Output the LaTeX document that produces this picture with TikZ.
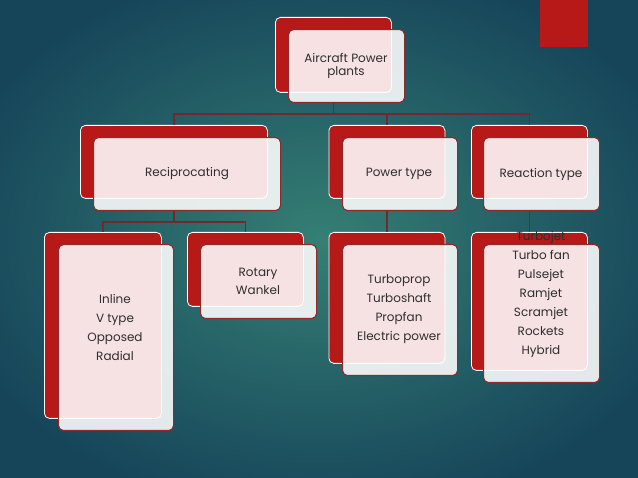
\documentclass[tikz,border=0pt]{standalone}
\usepackage{fontspec}
\setmainfont{Poppins}
\definecolor{bgin}{HTML}{357F74}
\definecolor{bgout}{HTML}{16455A}
\definecolor{boxred}{HTML}{B71818}
\definecolor{edgered}{HTML}{8C2A2C}
\definecolor{linered}{HTML}{72282D}
\definecolor{txt}{HTML}{2E2E2E}
\begin{document}
\begin{tikzpicture}[x=1pt,y=-1pt,
  back/.style={draw=white, line width=0.8pt, fill=boxred, rounded corners=5pt,
    inner sep=0pt, anchor=north west, minimum width=116pt},
  front/.style={draw=edgered, line width=1.1pt, fill=white, fill opacity=0.88,
    rounded corners=5pt, inner sep=0pt, anchor=north west, minimum width=116pt},
  lbl/.style={text=txt, align=center, inner sep=0pt, font=\fontsize{12}{19}\selectfont},
  conn/.style={draw=linered, line width=1.2pt}]
\useasboundingbox (0,0) rectangle (638,478);
\shade[inner color=bgin, outer color=bgout] (-60,-40) rectangle (698,518);
\node[fill=boxred, inner sep=0pt, minimum width=48pt, minimum height=47pt, anchor=north west] (accent) at (540,0) {};

% top
\node[back, minimum height=75pt] (tb) at (275,17) {};
\node[front, minimum height=73pt] (tf) at (288,29) {};
\node[lbl, font=\fontsize{12}{13}\selectfont] (tt) at (346,66) {Aircraft Power\\plants};

% level 1
\node[back, minimum width=187pt, minimum height=73pt] (rb) at (80,125) {};
\node[front, minimum width=187pt, minimum height=73pt] (rf) at (93,137) {};
\node[lbl] (rt) at (187,174) {Reciprocating};

\node[back, minimum height=73pt] (pb) at (328.5,125) {};
\node[front, minimum width=115pt, minimum height=73pt] (pf) at (342,137) {};
\node[lbl] (pt) at (399,174) {Power type};

\node[back, minimum height=73pt] (xb) at (471,125) {};
\node[front, minimum height=73pt] (xf) at (483,137) {};
\node[lbl] (xt) at (541,174) {Reaction type};

% level 2
\node[back, minimum width=117pt, minimum height=186pt] (ib) at (44,232) {};
\node[front, minimum width=115pt, minimum height=186pt] (if) at (58,244) {};
\node[lbl] (it) at (115,327.5) {Inline\\V type\\Opposed\\Radial};

\node[back, minimum height=74pt] (ob) at (187,232) {};
\node[front, minimum height=74pt] (of) at (200,244) {};
\node[lbl, font=\fontsize{12}{18}\selectfont] (ot) at (258,281) {Rotary\\Wankel};

\node[back, minimum height=131pt] (qb) at (328.5,232) {};
\node[front, minimum width=115pt, minimum height=131pt] (qf) at (342,244) {};
\node[lbl] (qt) at (399,309.5) {Turboprop\\Turboshaft\\Propfan\\Electric power};

\node[back, minimum height=138pt] (yb) at (471,232) {};
\node[front, minimum height=138pt] (yf) at (483,244) {};
\node[lbl] (yt) at (541,294) {Turbojet\\Turbo fan\\Pulsejet\\Ramjet\\Scramjet\\Rockets\\Hybrid};

% connectors
\coordinate (bus1) at (0,114);
\coordinate (bus2) at (0,222);
\draw[conn] (tb.center |- tf.south) -- (tb.center |- bus1);
\draw[conn] (rb.north) -- (rb.north |- bus1) -- (xb.north |- bus1) -- (xb.north);
\draw[conn] (pb.north |- bus1) -- (pb.north);
\draw[conn] (rb.center |- rf.south) -- (rb.center |- bus2);
\draw[conn] (ib.north) -- (ib.north |- bus2) -- (ob.north |- bus2) -- (ob.north);
\draw[conn] (pb.center |- pf.south) -- (qb.north);
\draw[conn] (xb.center |- xf.south) -- (yb.north);
\end{tikzpicture}
\end{document}
